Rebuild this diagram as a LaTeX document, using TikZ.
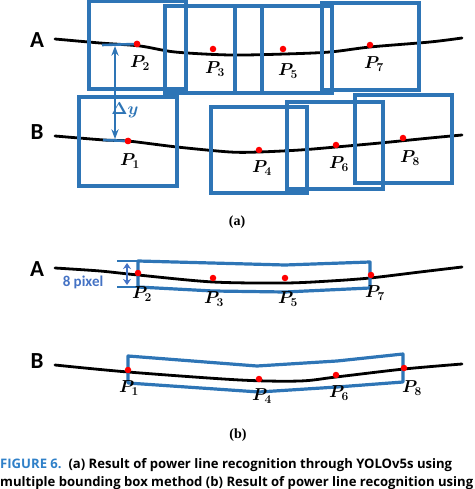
\documentclass[tikz,border=0pt]{standalone}
\usepackage{fontspec}
\usepackage{amsmath}
\usepackage{bm}
\setsansfont{Carlito}
\newfontfamily\capfont{Open Sans}
\newfontfamily\tagserif{Liberation Serif}
\usetikzlibrary{arrows.meta}
\definecolor{boxblue}{HTML}{2E75B6}
\definecolor{tagblue}{HTML}{4472C4}
\definecolor{figblue}{HTML}{2F80C8}

\newcommand{\plab}[1]{$\bm{P}_{\bm{#1}}$}

\begin{document}
\begin{tikzpicture}[
    x=1pt, y=-1pt,
    >=Stealth,
    wire/.style={line width=2.8pt, black, line cap=round},
    yolobox/.style={draw=boxblue, line width=3.2pt},
    fitbox/.style={draw=boxblue, line width=3.2pt, line join=round},
    reddot/.style={circle, fill=red, inner sep=0pt, minimum size=6.5pt},
    ptlabel/.style={font=\fontsize{18}{18}\selectfont, inner sep=0pt},
    linename/.style={font=\sffamily\bfseries\fontsize{23}{23}\selectfont},
    sublabel/.style={font=\tagserif\bfseries\fontsize{14}{14}\selectfont},
    caption/.style={font=\capfont\bfseries\fontsize{13.1}{15}\selectfont,
                    anchor=base west, inner sep=0pt},
]
\useasboundingbox (0,0) rectangle (474,489);

% ══════════════════════════════════════════════════════════════
% (a) multiple bounding boxes
% ══════════════════════════════════════════════════════════════

\node[linename] (nameA) at (37,40) {A};
\node[linename] (nameB) at (37,132) {B};

\draw[wire] plot[smooth, tension=0.5] coordinates {(55,39) (100,43) (140,46) (175,52)
    (230,55) (285,54) (330,52) (370,47) (430,42) (462,38)};
\draw[wire] plot[smooth, tension=0.5] coordinates {(55,136) (104,140) (128,141) (177,147)
    (230,152) (259,152) (300,150) (336,147) (380,143) (430,138) (462,135)};

% ── boxes on line A ──
\draw[yolobox] (89,1.6) rectangle (186,89);
\draw[yolobox] (165,6) rectangle (262,93);
\draw[yolobox] (235,6) rectangle (332,93);
\draw[yolobox] (322,3) rectangle (419,90);
% ── boxes on line B ──
\draw[yolobox] (79,97) rectangle (177,186);
\draw[yolobox] (211,107) rectangle (307,193);
\draw[yolobox] (287,102) rectangle (383,189);
\draw[yolobox] (355,95) rectangle (452,183);

% offset between the two lines
\coordinate (dyA) at (102,45);
\coordinate (dyB) at (103,140);
\node[reddot] (a2) at (137,44) {};
\node[reddot] (a1) at (128,141) {};
\draw[boxblue, line width=2.6pt] (dyA) -- (a2.center);
\draw[boxblue, line width=2.6pt] (dyB) -- (a1.center);
\node[reddot] at (137,44) {};
\node[reddot] at (128,141) {};
\coordinate (dyT) at (115,46);
\coordinate (dyD) at (115,139);
\draw[<->, boxblue, line width=1.5pt] (dyT) -- (dyD);
\node[text=boxblue, font=\fontsize{17}{17}\selectfont] (dy) at (125,110) {$\bm{\Delta y}$};

\node[reddot] (a3) at (213,49) {};
\node[reddot] (a5) at (283,49) {};
\node[reddot] (a7) at (370,45) {};
\node[reddot] (a4) at (259,150) {};
\node[reddot] (a6) at (336,145) {};
\node[reddot] (a8) at (403,138) {};

\node[ptlabel] (la2) at (140,63) {\plab{2}};
\node[ptlabel] (la3) at (215,69) {\plab{3}};
\node[ptlabel] (la5) at (288,71) {\plab{5}};
\node[ptlabel] (la7) at (374,64) {\plab{7}};
\node[ptlabel] (la1) at (130,161) {\plab{1}};
\node[ptlabel] (la4) at (262,168) {\plab{4}};
\node[ptlabel] (la6) at (339,164) {\plab{6}};
\node[ptlabel] (la8) at (410,158) {\plab{8}};

\node[sublabel] (capa) at (237,222) {(a)};

% ══════════════════════════════════════════════════════════════
% (b) one fitted box per line
% ══════════════════════════════════════════════════════════════

\node[linename] (nameA2) at (37,269) {A};
\node[linename] (nameB2) at (37,361) {B};

\draw[wire] plot[smooth, tension=0.5] coordinates {(55,268) (100,271) (138,275) (213,282)
    (285,283) (330,281) (370,278) (420,272) (462,267)};
\draw[wire] plot[smooth, tension=0.5] coordinates {(55,365) (128,372) (240,380)
    (300,381) (336,377) (404,369) (462,364)};

\draw[fitbox] (138,261) -- (285,265) -- (370,262) -- (370,288)
    -- (285,292) -- (213,291) -- (138,287) -- cycle;
\draw[fitbox] (128,356) -- (257,366) -- (337,361) -- (403,354) -- (403,382)
    -- (337,387) -- (259,392) -- (128,383) -- cycle;

% 8 pixel height mark
\coordinate (tkT) at (117,261);
\coordinate (tkB) at (117,287);
\draw[boxblue, line width=2.6pt] (tkT) -- (138,261);
\draw[boxblue, line width=2.6pt] (tkB) -- (138,287);
\draw[{Stealth[length=6pt,width=8pt]}-{Stealth[length=6pt,width=8pt]}, tagblue, line width=2pt]
    (127,263) -- (127,285);
\node[text=tagblue, font=\sffamily\bfseries\fontsize{15}{15}\selectfont] (px) at (83,282) {8 pixel};

\node[reddot] (b2) at (138,273) {};
\node[reddot] (b3) at (213,278) {};
\node[reddot] (b5) at (285,278) {};
\node[reddot] (b7) at (371,275) {};
\node[reddot] (b1) at (128,370) {};
\node[reddot] (b4) at (259,379) {};
\node[reddot] (b6) at (336,375) {};
\node[reddot] (b8) at (404,368) {};

\node[ptlabel] (lb2) at (142,294) {\plab{2}};
\node[ptlabel] (lb3) at (214,299) {\plab{3}};
\node[ptlabel] (lb5) at (288,299) {\plab{5}};
\node[ptlabel] (lb7) at (375,293) {\plab{7}};
\node[ptlabel] (lb1) at (129,388) {\plab{1}};
\node[ptlabel] (lb4) at (262,396) {\plab{4}};
\node[ptlabel] (lb6) at (339,393) {\plab{6}};
\node[ptlabel] (lb8) at (412,388) {\plab{8}};

\node[sublabel] (capb) at (238,435) {(b)};

% caption, as far as the crop shows it
\node[caption] (fig1) at (0,468) {\textcolor{figblue}{FIGURE 6.}\ \ (a) Result of power line recognition through YOLOv5s using};
\node[caption] (fig2) at (0,486) {\makebox[473pt][s]{multiple bounding box method (b) Result of power line recognition using}};

\end{tikzpicture}
\end{document}
